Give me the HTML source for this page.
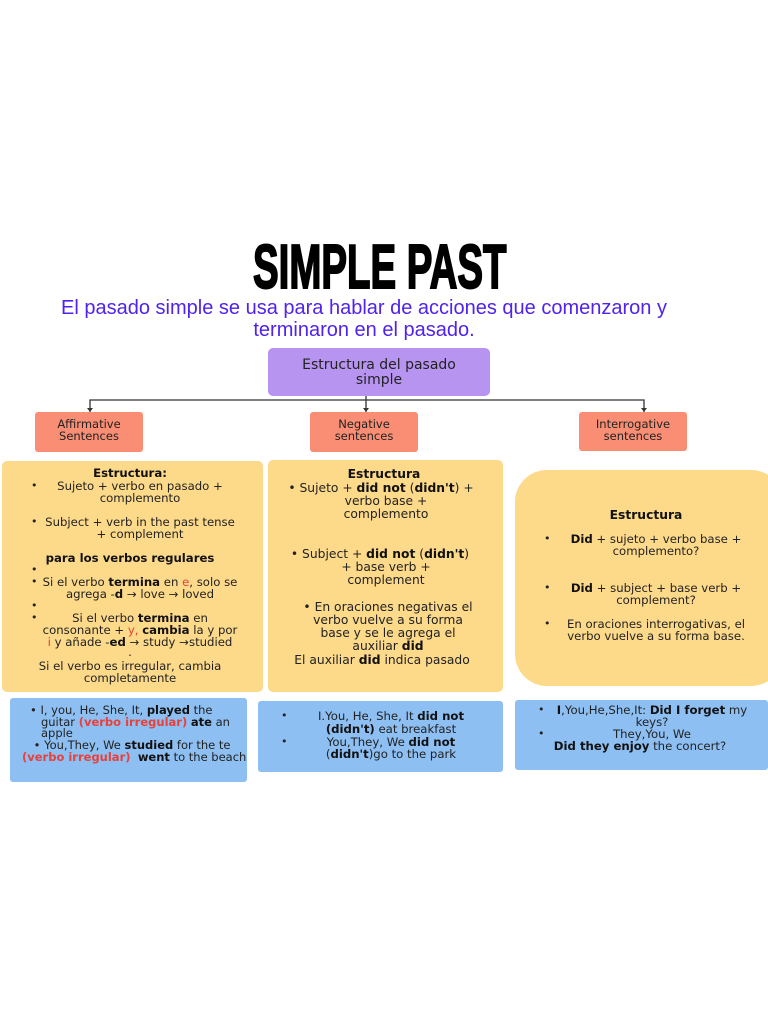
<!DOCTYPE html>
<html><head><meta charset="utf-8"><style>
body{margin:0;width:768px;height:1024px;background:#fff;position:relative;overflow:hidden;font-family:"DejaVu Sans","Liberation Sans",sans-serif;color:#222}
.a{position:absolute}
.l{position:absolute;white-space:nowrap;font-size:11.7px;line-height:12px;text-align:center;transform:translateX(-50%)}
.b{position:absolute;font-size:11px;line-height:12px}
.r{color:#e8403a}
b{font-weight:bold;color:#111}
</style></head><body>
<div class="a" style="left:253px;top:238px;width:257px;height:60px;overflow:visible">
<div style="font-family:'Liberation Sans',sans-serif;font-weight:bold;font-size:62px;line-height:60px;transform:scaleX(0.62);transform-origin:0 0;white-space:nowrap;color:#000;-webkit-text-stroke:2px #000">SIMPLE PAST</div></div>
<div class="a" style="left:0;width:728px;top:297px;text-align:center;font-family:'Liberation Sans',sans-serif;font-size:20px;line-height:22px;color:#5022ee">El pasado simple se usa para hablar de acciones que comenzaron y<br>terminaron en el pasado.</div>

<div class="a" style="left:268px;top:348px;width:222px;height:48px;background:#b794f0;border-radius:5px"></div>
<div class="l" style="left:379px;top:358px;font-size:14px;line-height:15px">Estructura del pasado<br>simple</div>

<svg class="a" style="left:0;top:0" width="768" height="460">
<g stroke="#333" stroke-width="1.3" fill="none">
<path d="M90 412V400H644V412M366 396V412"/></g>
<g fill="#333"><path d="M87 408h6l-3 4z"/><path d="M363 408h6l-3 4z"/><path d="M641 408h6l-3 4z"/></g>
</svg>
<div class="a" style="left:35px;top:412px;width:108px;height:40px;background:#f98e74;border-radius:3px"></div>
<div class="a" style="left:310px;top:412px;width:108px;height:40px;background:#f98e74;border-radius:3px"></div>
<div class="a" style="left:579px;top:412px;width:108px;height:39px;background:#f98e74;border-radius:3px"></div>
<div class="l" style="left:89px;top:418px;font-size:11.5px;line-height:12px">Affirmative<br>Sentences</div>
<div class="l" style="left:364px;top:418px;font-size:11.5px;line-height:12px">Negative<br>sentences</div>
<div class="l" style="left:633px;top:418px;font-size:11.5px;line-height:12px">Interrogative<br>sentences</div>

<div class="a" style="left:2px;top:461px;width:261px;height:231px;background:#fdd98a;border-radius:5px"></div>
<div class="a" style="left:268px;top:460px;width:235px;height:232px;background:#fdd98a;border-radius:5px"></div>
<div class="a" style="left:515px;top:470px;width:268px;height:216px;background:#fdd98a;border-radius:32px"></div>

<!-- left yellow -->
<div class="l" style="left:130px;top:467px"><b>Estructura:</b></div>
<div class="l" style="left:140px;top:480px">Sujeto + verbo en pasado +</div>
<div class="l" style="left:140px;top:492px">complemento</div>
<div class="l" style="left:140px;top:516px">Subject + verb in the past tense</div>
<div class="l" style="left:140px;top:528px">+ complement</div>
<div class="l" style="left:130px;top:552px"><b>para los verbos regulares</b></div>
<div class="l" style="left:140px;top:576px">Si el verbo <b>termina</b> en <span class="r">e</span>, solo se</div>
<div class="l" style="left:140px;top:588px">agrega -<b>d</b> → love → loved</div>
<div class="l" style="left:140px;top:612px">Si el verbo <b>termina</b> en</div>
<div class="l" style="left:140px;top:624px">consonante + <span class="r">y,</span> <b>cambia</b> la y por</div>
<div class="l" style="left:140px;top:636px"><span class="r">i</span> y añade -<b>ed</b> → study →studied</div>
<div class="l" style="left:130px;top:646px">.</div>
<div class="l" style="left:130px;top:660px">Si el verbo es irregular, cambia</div>
<div class="l" style="left:130px;top:672px">completamente</div>
<div class="b" style="left:31px;top:480px">•</div>
<div class="b" style="left:31px;top:516px">•</div>
<div class="b" style="left:31px;top:564px">•</div>
<div class="b" style="left:31px;top:576px">•</div>
<div class="b" style="left:31px;top:600px">•</div>
<div class="b" style="left:31px;top:612px">•</div>

<!-- middle yellow -->
<div class="l" style="left:384px;top:468px;font-size:12.3px"><b>Estructura</b></div>
<div class="l" style="left:381px;top:482px;font-size:12.3px">• Sujeto + <b>did not</b> (<b>didn't</b>) +</div>
<div class="l" style="left:386px;top:495px;font-size:12.3px">verbo base +</div>
<div class="l" style="left:386px;top:508px;font-size:12.3px">complemento</div>
<div class="l" style="left:380px;top:548px;font-size:12.3px">• Subject + <b>did not</b> (<b>didn't</b>)</div>
<div class="l" style="left:386px;top:561px;font-size:12.3px">+ base verb +</div>
<div class="l" style="left:386px;top:574px;font-size:12.3px">complement</div>
<div class="l" style="left:388px;top:601px;font-size:12.3px">• En oraciones negativas  el</div>
<div class="l" style="left:388px;top:614px;font-size:12.3px">verbo vuelve a su forma</div>
<div class="l" style="left:388px;top:627px;font-size:12.3px">base y se le agrega el</div>
<div class="l" style="left:388px;top:640px;font-size:12.3px">auxiliar <b>did</b></div>
<div class="l" style="left:382px;top:654px;font-size:12.3px">El auxiliar <b>did</b> indica pasado</div>

<!-- right yellow -->
<div class="l" style="left:646px;top:509px;font-size:12.3px"><b>Estructura</b></div>
<div class="b" style="left:544px;top:533px">•</div>
<div class="l" style="left:656px;top:533px"><b>Did</b> + sujeto + verbo base +</div>
<div class="l" style="left:656px;top:545px">complemento?</div>
<div class="b" style="left:544px;top:582px">•</div>
<div class="l" style="left:656px;top:582px"><b>Did</b> + subject + base verb +</div>
<div class="l" style="left:656px;top:594px">complement?</div>
<div class="b" style="left:544px;top:618px">•</div>
<div class="l" style="left:656px;top:618px">En oraciones interrogativas, el</div>
<div class="l" style="left:656px;top:630px">verbo vuelve a su forma base.</div>

<!-- blue -->
<div class="a" style="left:10px;top:698px;width:237px;height:84px;background:#8dbff2;border-radius:3px"></div>
<div class="a" style="left:258px;top:701px;width:245px;height:71px;background:#8dbff2;border-radius:3px"></div>
<div class="a" style="left:515px;top:700px;width:253px;height:70px;background:#8dbff2;border-radius:3px"></div>

<div class="b" style="left:30px;top:705px;font-size:11.5px;line-height:11.5px;white-space:nowrap">•&nbsp;I, you, He, She, It, <b>played</b> the<br>&nbsp;&nbsp; guitar <b class="r" style="color:#e8403a">(verbo irregular)</b> <b>ate</b> an<br>&nbsp;&nbsp; apple<br>&nbsp;•&nbsp;You,They, We <b>studied</b> for the te</div>
<div class="b" style="left:22px;top:751px;font-size:11.5px;white-space:nowrap"><b class="r" style="color:#e8403a">(verbo irregular)</b>&nbsp; <b>went</b> to the beach</div>

<div class="b" style="left:281px;top:710px">•</div>
<div class="b" style="left:281px;top:736px">•</div>
<div class="l" style="left:391px;top:710px">I.You, He, She, It <b>did not</b></div>
<div class="l" style="left:391px;top:723px"><b>(didn't)</b> eat breakfast</div>
<div class="l" style="left:391px;top:736px">You,They, We <b>did not</b></div>
<div class="l" style="left:391px;top:748px">(<b>didn't</b>)go to the park</div>

<div class="b" style="left:538px;top:704px">•</div>
<div class="b" style="left:538px;top:728px">•</div>
<div class="l" style="left:652px;top:704px"><b>I</b>,You,He,She,It: <b>Did I forget</b> my</div>
<div class="l" style="left:652px;top:716px">keys?</div>
<div class="l" style="left:652px;top:728px">They,You, We</div>
<div class="l" style="left:640px;top:740px"><b>Did they enjoy</b> the concert?</div>
</body></html>
